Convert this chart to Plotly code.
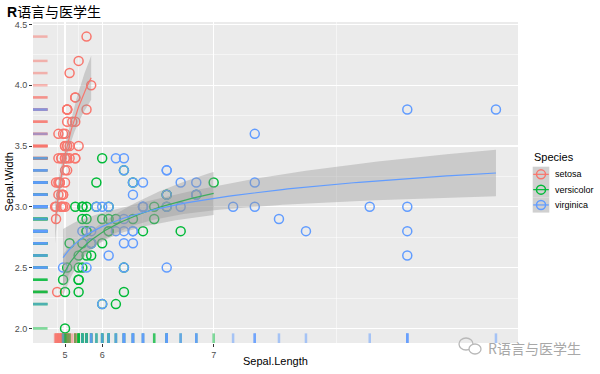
import numpy as np
import plotly.graph_objects as go

# ---------------- data (iris) ----------------
species = ["setosa", "versicolor", "virginica"]
colors = ["#F8766D", "#00BA38", "#619CFF"]

setosa_len = [5.1,4.9,4.7,4.6,5.0,5.4,4.6,5.0,4.4,4.9,5.4,4.8,4.8,4.3,5.8,5.7,5.4,5.1,5.7,5.1,
              5.4,5.1,4.6,5.1,4.8,5.0,5.0,5.2,5.2,4.7,4.8,5.4,5.2,5.5,4.9,5.0,5.5,4.9,4.4,5.1,
              5.0,4.5,4.4,5.0,5.1,4.8,5.1,4.6,5.3,5.0]
setosa_wid = [3.5,3.0,3.2,3.1,3.6,3.9,3.4,3.4,2.9,3.1,3.7,3.4,3.0,3.0,4.0,4.4,3.9,3.5,3.8,3.8,
              3.4,3.7,3.6,3.3,3.4,3.0,3.4,3.5,3.4,3.2,3.1,3.4,4.1,4.2,3.1,3.2,3.5,3.6,3.0,3.4,
              3.5,2.3,3.2,3.5,3.8,3.0,3.8,3.2,3.7,3.3]
versicolor_len = [7.0,6.4,6.9,5.5,6.5,5.7,6.3,4.9,6.6,5.2,5.0,5.9,6.0,6.1,5.6,6.7,5.6,5.8,6.2,5.6,
                  5.9,6.1,6.3,6.1,6.4,6.6,6.8,6.7,6.0,5.7,5.5,5.5,5.8,6.0,5.4,6.0,6.7,6.3,5.6,5.5,
                  5.5,6.1,5.8,5.0,5.6,5.7,5.7,6.2,5.1,5.7]
versicolor_wid = [3.2,3.2,3.1,2.3,2.8,2.8,3.3,2.4,2.9,2.7,2.0,3.0,2.2,2.9,2.9,3.1,3.0,2.7,2.2,2.5,
                  3.2,2.8,2.5,2.8,2.9,3.0,2.8,3.0,2.9,2.6,2.4,2.4,2.7,2.7,3.0,3.4,3.1,2.3,3.0,2.5,
                  2.6,3.0,2.6,2.3,2.7,3.0,2.9,2.9,2.5,2.8]
virginica_len = [6.3,5.8,7.1,6.3,6.5,7.6,4.9,7.3,6.7,7.2,6.5,6.4,6.8,5.7,5.8,6.4,6.5,7.7,7.7,6.0,
                 6.9,5.6,7.7,6.3,6.7,7.2,6.2,6.1,6.4,7.2,7.4,7.9,6.4,6.3,6.1,7.7,6.3,6.4,6.0,6.9,
                 6.7,6.9,5.8,6.8,6.7,6.7,6.3,6.5,6.2,5.9]
virginica_wid = [3.3,2.7,3.0,2.9,3.0,3.0,2.5,2.9,2.5,3.6,3.2,2.7,3.0,2.5,2.8,3.2,3.0,3.8,2.6,2.2,
                 3.2,2.8,2.8,2.7,3.3,3.2,2.8,3.0,2.8,3.0,2.8,3.8,2.8,2.8,2.6,3.0,3.4,3.1,3.0,3.1,
                 3.1,3.1,2.7,3.2,3.3,3.0,2.5,3.0,3.4,3.0]

x_major = [5, 6, 7]
x_minor = [4.5, 5.5, 6.5, 7.5]
y_major = [2.0, 2.5, 3.0, 3.5, 4.0, 4.5]
y_minor = [2.25, 2.75, 3.25, 3.75, 4.25]

title_text = "<b>R</b>语言与医学生"
watermark_text = "R语言与医学生"

lens = [setosa_len, versicolor_len, virginica_len]
wids = [setosa_wid, versicolor_wid, virginica_wid]

# ---------------- scale: exponential (base 3) x transform ----------------
BASE = 3.0
def T(v):
    return BASE ** np.asarray(v, dtype=float)

all_len = np.concatenate([np.array(l) for l in lens])
all_wid = np.concatenate([np.array(w) for w in wids])
xlo, xhi = T(all_len.min()), T(all_len.max())
xr = xhi - xlo
x_range = [xlo - 0.05 * xr, xhi + 0.05 * xr]
ylo, yhi = all_wid.min(), all_wid.max()
yr = yhi - ylo
y_range = [ylo - 0.05 * yr, yhi + 0.05 * yr]

T_CRIT = 2.010635  # qt(0.975, 48)

W, H = 600, 374
ML, MR, MT, MB = 33, 82, 22, 31
PW, PH = W - ML - MR, H - MT - MB

def px_x(p):  # pixel -> paper x
    return (p - ML) / PW
def px_y(p):  # pixel -> paper y
    return (H - MB - p) / PH

fig = go.Figure()

# points
for sp, c, L, Wd in zip(species, colors, lens, wids):
    fig.add_trace(go.Scatter(
        x=T(L), y=Wd, mode="markers", name=sp, showlegend=False,
        marker=dict(symbol="circle-open", size=9, color=c, line=dict(width=1.5, color=c)),
        hoverinfo="skip"))

# smooth (lm) with 95% CI
for sp, c, L, Wd in zip(species, colors, lens, wids):
    x = np.array(L); y = np.array(Wd); n = len(x)
    b, a = np.polyfit(x, y, 1)
    resid = y - (a + b * x)
    s = np.sqrt(np.sum(resid ** 2) / (n - 2))
    sxx = np.sum((x - x.mean()) ** 2)
    gt = np.linspace(T(x.min()), T(x.max()), 80)
    gx = np.log(gt) / np.log(BASE)
    pred = a + b * gx
    se = s * np.sqrt(1.0 / n + (gx - x.mean()) ** 2 / sxx)
    up, lo = pred + T_CRIT * se, pred - T_CRIT * se
    fig.add_trace(go.Scatter(
        x=np.concatenate([gt, gt[::-1]]), y=np.concatenate([up, lo[::-1]]),
        fill="toself", fillcolor="rgba(153,153,153,0.4)", line=dict(width=0),
        mode="lines", showlegend=False, hoverinfo="skip"))
    fig.add_trace(go.Scatter(x=gt, y=pred, mode="lines", line=dict(color=c, width=1.2),
                             showlegend=False, hoverinfo="skip"))

shapes = []
# rugs
for c, L, Wd in zip(colors, lens, wids):
    for v in Wd:
        shapes.append(dict(type="line", xref="x domain", yref="y", x0=0, x1=0.03, y0=v, y1=v,
                           line=dict(color=c, width=2.5), opacity=0.5))
    for v in L:
        tv = float(T(v))
        shapes.append(dict(type="line", xref="x", yref="y domain", x0=tv, x1=tv, y0=0, y1=0.03,
                           line=dict(color=c, width=2.5), opacity=0.5))

annotations = []
# legend (manual, ggplot style)
key_x0, key_x1 = 532.7, 549.3
key_top, key_h = 166.7, 15.3
annotations.append(dict(text="Species", x=px_x(532), y=px_y(157), xref="paper", yref="paper",
                        xanchor="left", yanchor="middle", showarrow=False,
                        font=dict(size=11, color="#000000")))
for i, (sp, c) in enumerate(zip(species, colors)):
    t0 = key_top + i * key_h
    cy = t0 + key_h / 2
    cx = (key_x0 + key_x1) / 2
    shapes.append(dict(type="rect", xref="paper", yref="paper", layer="below",
                       x0=px_x(key_x0), x1=px_x(key_x1), y0=px_y(t0 + key_h), y1=px_y(t0),
                       fillcolor="#D0D0D0", line=dict(width=0)))
    shapes.append(dict(type="line", xref="paper", yref="paper",
                       x0=px_x(key_x0 + 0.5), x1=px_x(key_x1 - 0.5), y0=px_y(cy), y1=px_y(cy),
                       line=dict(color=c, width=1.2)))
    shapes.append(dict(type="circle", xref="paper", yref="paper", xsizemode="pixel", ysizemode="pixel",
                       xanchor=px_x(cx), yanchor=px_y(cy), x0=-4.5, x1=4.5, y0=-4.5, y1=4.5,
                       line=dict(color=c, width=1.5)))
    annotations.append(dict(text=sp, x=px_x(552.5), y=px_y(cy), xref="paper", yref="paper",
                            xanchor="left", yanchor="middle", showarrow=False,
                            font=dict(size=9, color="#000000")))

# title, axis titles
annotations.append(dict(text=title_text, x=px_x(5), y=px_y(12), xref="paper", yref="paper",
                        xanchor="left", yanchor="middle", showarrow=False,
                        font=dict(size=14, color="#000000",
                                  family="Liberation Sans, Noto Sans CJK SC")))
annotations.append(dict(text="Sepal.Length", x=0.5, y=px_y(361), xref="paper", yref="paper",
                        xanchor="center", yanchor="middle", showarrow=False,
                        font=dict(size=11, color="#000000")))
annotations.append(dict(text="Sepal.Width", x=px_x(8), y=0.5, xref="paper", yref="paper",
                        xanchor="center", yanchor="middle", showarrow=False, textangle=-90,
                        font=dict(size=11, color="#000000")))
# watermark
annotations.append(dict(text=watermark_text, x=px_x(486), y=px_y(348), xref="paper", yref="paper",
                        xanchor="left", yanchor="middle", showarrow=False,
                        font=dict(size=14, color="#A8A8A8", family="Noto Sans CJK SC")))
shapes.append(dict(type="circle", xref="paper", yref="paper", xsizemode="pixel", ysizemode="pixel",
                   xanchor=px_x(466), yanchor=px_y(344), x0=-7, x1=7, y0=-6, y1=6,
                   line=dict(color="#B8B8B8", width=1.3)))
shapes.append(dict(type="circle", xref="paper", yref="paper", xsizemode="pixel", ysizemode="pixel",
                   xanchor=px_x(475), yanchor=px_y(349), x0=-6, x1=6, y0=-5, y1=5,
                   fillcolor="white", line=dict(color="#B8B8B8", width=1.3)))

fig.update_layout(
    width=W, height=H, margin=dict(l=ML, r=MR, t=MT, b=MB),
    paper_bgcolor="white", plot_bgcolor="#EBEBEB",
    font=dict(family="Liberation Sans, Arial, sans-serif"),
    showlegend=False, shapes=shapes, annotations=annotations,
    xaxis=dict(range=x_range, tickmode="array", tickvals=T(x_major).tolist(),
               ticktext=[str(v) for v in x_major], showgrid=True, gridcolor="white", gridwidth=1.1,
               zeroline=False, ticks="outside", ticklen=3, tickcolor="#333333", tickwidth=1,
               tickfont=dict(size=9, color="#4D4D4D"), showline=False,
               minor=dict(tickmode="array", tickvals=T(x_minor).tolist(), showgrid=True,
                          gridcolor="white", gridwidth=0.5, ticks="")),
    yaxis=dict(range=y_range, tickmode="array", tickvals=y_major,
               ticktext=[f"{v:.1f}" for v in y_major], showgrid=True, gridcolor="white", gridwidth=1.1,
               zeroline=False, ticks="outside", ticklen=3, tickcolor="#333333", tickwidth=1,
               tickfont=dict(size=9, color="#4D4D4D"), showline=False,
               minor=dict(tickmode="array", tickvals=y_minor, showgrid=True,
                          gridcolor="white", gridwidth=0.5, ticks="")),
)

fig.write_html("out.html", config={"displayModeBar": False, "staticPlot": True},
               post_script="document.body.style.margin='0';document.body.style.overflow='hidden';")
